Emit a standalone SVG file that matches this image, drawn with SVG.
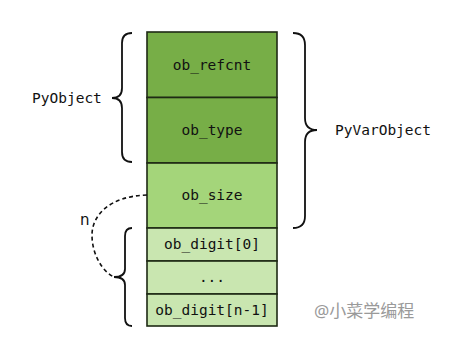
<svg xmlns="http://www.w3.org/2000/svg" width="474" height="359" viewBox="0 0 474 359">
<style>
.cell{stroke:#1e2a14;stroke-width:1.6}
.dark{fill:#77ae47}
.mid{fill:#a4d57a}
.light{fill:#c9e6b0}
.t{font-family:"DejaVu Sans Mono",monospace;font-size:14.5px;fill:#111;text-anchor:middle}
.lbl{font-family:"DejaVu Sans Mono",monospace;font-size:14.5px;fill:#111}
.brace{fill:none;stroke:#111;stroke-width:1.8}
</style>
<rect width="474" height="359" fill="#fff"/>
<g id="ob_refcnt"><rect class="cell dark" x="147" y="32" width="130" height="65.5"/><text class="t" x="212" y="70">ob_refcnt</text></g>
<g id="ob_type"><rect class="cell dark" x="147" y="97.5" width="130" height="65.5"/><text class="t" x="212" y="135">ob_type</text></g>
<g id="ob_size"><rect class="cell mid" x="147" y="163" width="130" height="65"/><text class="t" x="212" y="200">ob_size</text></g>
<g id="ob_digit0"><rect class="cell light" x="147" y="228" width="130" height="33"/><text class="t" x="212" y="249">ob_digit[0]</text></g>
<g id="dots"><rect class="cell light" x="147" y="261" width="130" height="33"/><text class="t" x="212" y="282">...</text></g>
<g id="ob_digitn1"><rect class="cell light" x="147" y="294" width="130" height="32"/><text class="t" x="212" y="315">ob_digit[n-1]</text></g>
<g id="PyObject"><path class="brace" d="M132,33 Q122,33 122,43 L122,88 Q122,98 112,98 Q122,98 122,108 L122,152 Q122,162 132,162"/><text class="lbl" x="32" y="103">PyObject</text></g>
<g id="PyVarObject"><path class="brace" d="M293,33 Q305,33 305,45 L305,118 Q305,130 317,130 Q305,130 305,142 L305,216 Q305,228 293,228"/><text class="lbl" x="335" y="135">PyVarObject</text></g>
<g id="digits"><path class="brace" d="M132,228 Q125,228 125,236 L125,269 Q125,277 114,277 Q125,277 125,285 L125,318 Q125,326 132,326"/></g>
<g id="connectors"><path d="M147,195 C110,196 92,215 92,235 C92,255 103,272 114,277" fill="none" stroke="#111" stroke-width="1.6" stroke-dasharray="4,3"/><text x="80" y="225" font-family="DejaVu Sans,sans-serif" font-size="15" fill="#111">n</text></g>
<text x="314" y="317" font-family="Noto Sans,Noto Sans CJK SC,sans-serif" font-size="17" fill="#9a9a9a">@小菜学编程</text>
</svg>
